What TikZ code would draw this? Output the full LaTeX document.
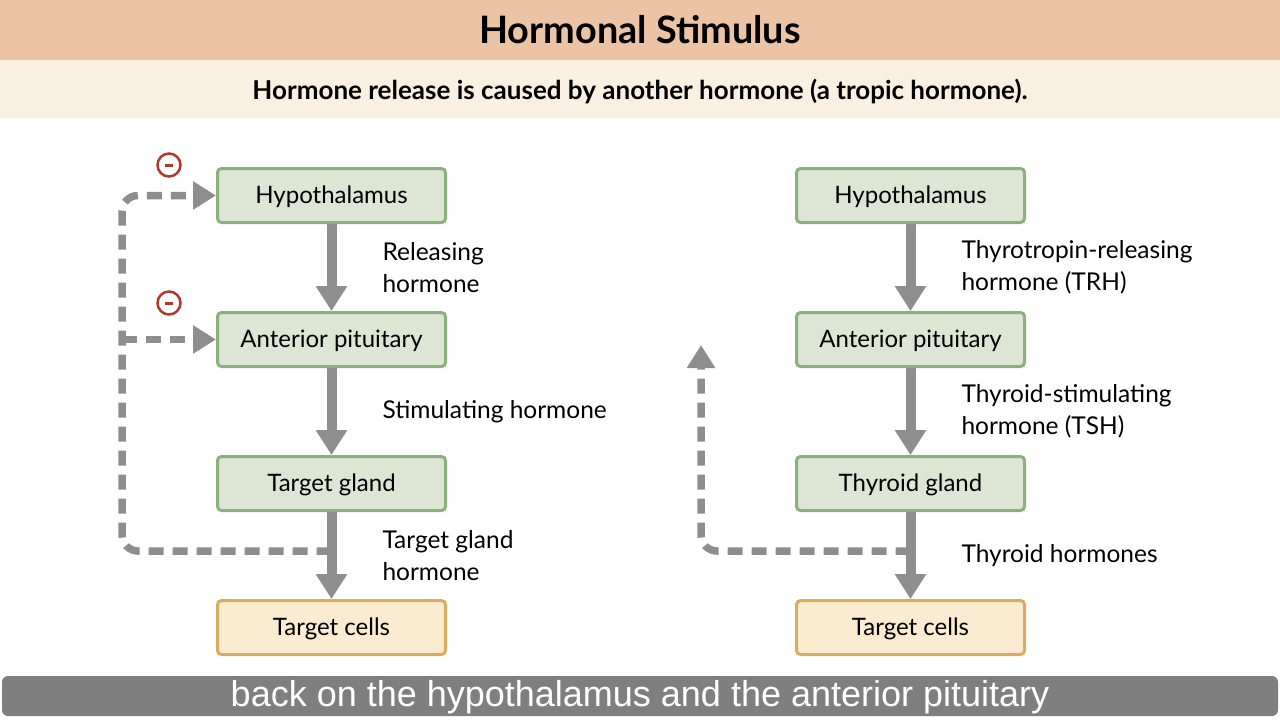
\documentclass[tikz,border=0pt]{standalone}
\usepackage{fontspec}
\setmainfont{Lato}
\newfontfamily\capfont{Liberation Sans}
\usetikzlibrary{positioning}
\usetikzlibrary{arrows.meta}

\definecolor{bandtop}{HTML}{EBC3A5}
\definecolor{bandsub}{HTML}{FAF0E1}
\definecolor{glandfill}{HTML}{DDE5D5}
\definecolor{glandline}{HTML}{8AB07C}
\definecolor{cellfill}{HTML}{FBEBD0}
\definecolor{cellline}{HTML}{D8AE5E}
\definecolor{flowgray}{HTML}{8E8E8E}
\definecolor{minusred}{HTML}{B0382C}
\definecolor{capgray}{HTML}{7F7F7F}

\tikzset{
  glandbox/.style={draw=glandline, fill=glandfill, line width=3pt, rounded corners=4pt,
    minimum width=228pt, minimum height=54pt, inner sep=0pt,
    text height=17pt, text depth=1pt, font=\fontsize{24}{28}\selectfont},
  cellbox/.style={glandbox, draw=cellline, fill=cellfill},
  flow/.style={draw=flowgray, line width=10pt, -{Triangle[width=30pt,length=25pt]}},
  fb/.style={draw=flowgray, line width=7.5pt, dash pattern=on 15pt off 9pt,
    rounded corners=16pt, -{Triangle[width=27pt,length=23pt]}},
  lbl/.style={right, xshift=46pt, inner sep=0pt, align=left, font=\fontsize{24.5}{32}\selectfont},
  negmark/.style={draw=minusred, line width=2.5pt, circle, minimum size=23pt, inner sep=0pt, text=minusred},
  headtxt/.style={anchor=base, inner sep=0pt, font=\fontsize{37.8}{42}\selectfont\bfseries},
  subtxt/.style={anchor=base, inner sep=0pt, font=\fontsize{26}{30}\selectfont\bfseries},
  captxt/.style={anchor=base, inner sep=0pt, text=white, font=\fontsize{36}{40}\selectfont\capfont},
}

\begin{document}
\begin{tikzpicture}[x=1pt, y=-1pt, node distance=87pt]
\useasboundingbox (0,0) rectangle (1280,720);
% header
\fill[bandtop] (0,0) rectangle (1280,60);
\fill[bandsub] (0,60) rectangle (1280,118);
\node[headtxt] (head) at (640,43) {Hormonal Stimulus};
\node[subtxt] (sub) at (640,99) {Hormone release is caused by another hormone (a tropic hormone).};

% general scheme
\node[glandbox] (hypoL) at (331.5,195.5) {Hypothalamus};
\node[glandbox, below=of hypoL] (antL) {Anterior pituitary};
\node[glandbox, below=of antL] (targL) {Target gland};
\node[cellbox, below=of targL] (cellsL) {Target cells};

% thyroid example
\node[glandbox] (hypoR) at (910.5,195.5) {Hypothalamus};
\node[glandbox, below=of hypoR] (antR) {Anterior pituitary};
\node[glandbox, below=of antR] (thyR) {Thyroid gland};
\node[cellbox, below=of thyR] (cellsR) {Target cells};

% negative feedback
\coordinate (splitL) at (331.5,551);
\coordinate (backL) at (122,551);
\draw[fb] (splitL) -| (hypoL.west -| backL) -- (hypoL.west);
\draw[fb] (antL.west -| backL) -- (antL.west);
\coordinate (splitR) at (910.5,551);
\coordinate (upR) at (701,345);
\draw[fb] (splitR) -| (upR);

\node[negmark] (negH) at (169,165) {\rule{8pt}{3pt}};
\node[negmark] (negA) at (169,303) {\rule{8pt}{3pt}};

% hormone flow
\draw[flow] (hypoL) -- node[lbl] {Releasing\\hormone} (antL);
\draw[flow] (antL) -- node[lbl] {Stimulating hormone} (targL);
\draw[flow] (targL) -- node[lbl] {Target gland\\hormone} (cellsL);
\draw[flow] (hypoR) -- node[lbl] {Thyrotropin-releasing\\hormone (TRH)} (antR);
\draw[flow] (antR) -- node[lbl] {Thyroid-stimulating\\hormone (TSH)} (thyR);
\draw[flow] (thyR) -- node[lbl] {Thyroid hormones} (cellsR);

% caption bar
\fill[capgray, rounded corners=6pt] (2,676) rectangle (1278,716);
\node[captxt] (cap) at (640,706) {back on the hypothalamus and the anterior pituitary};
\end{tikzpicture}
\end{document}
